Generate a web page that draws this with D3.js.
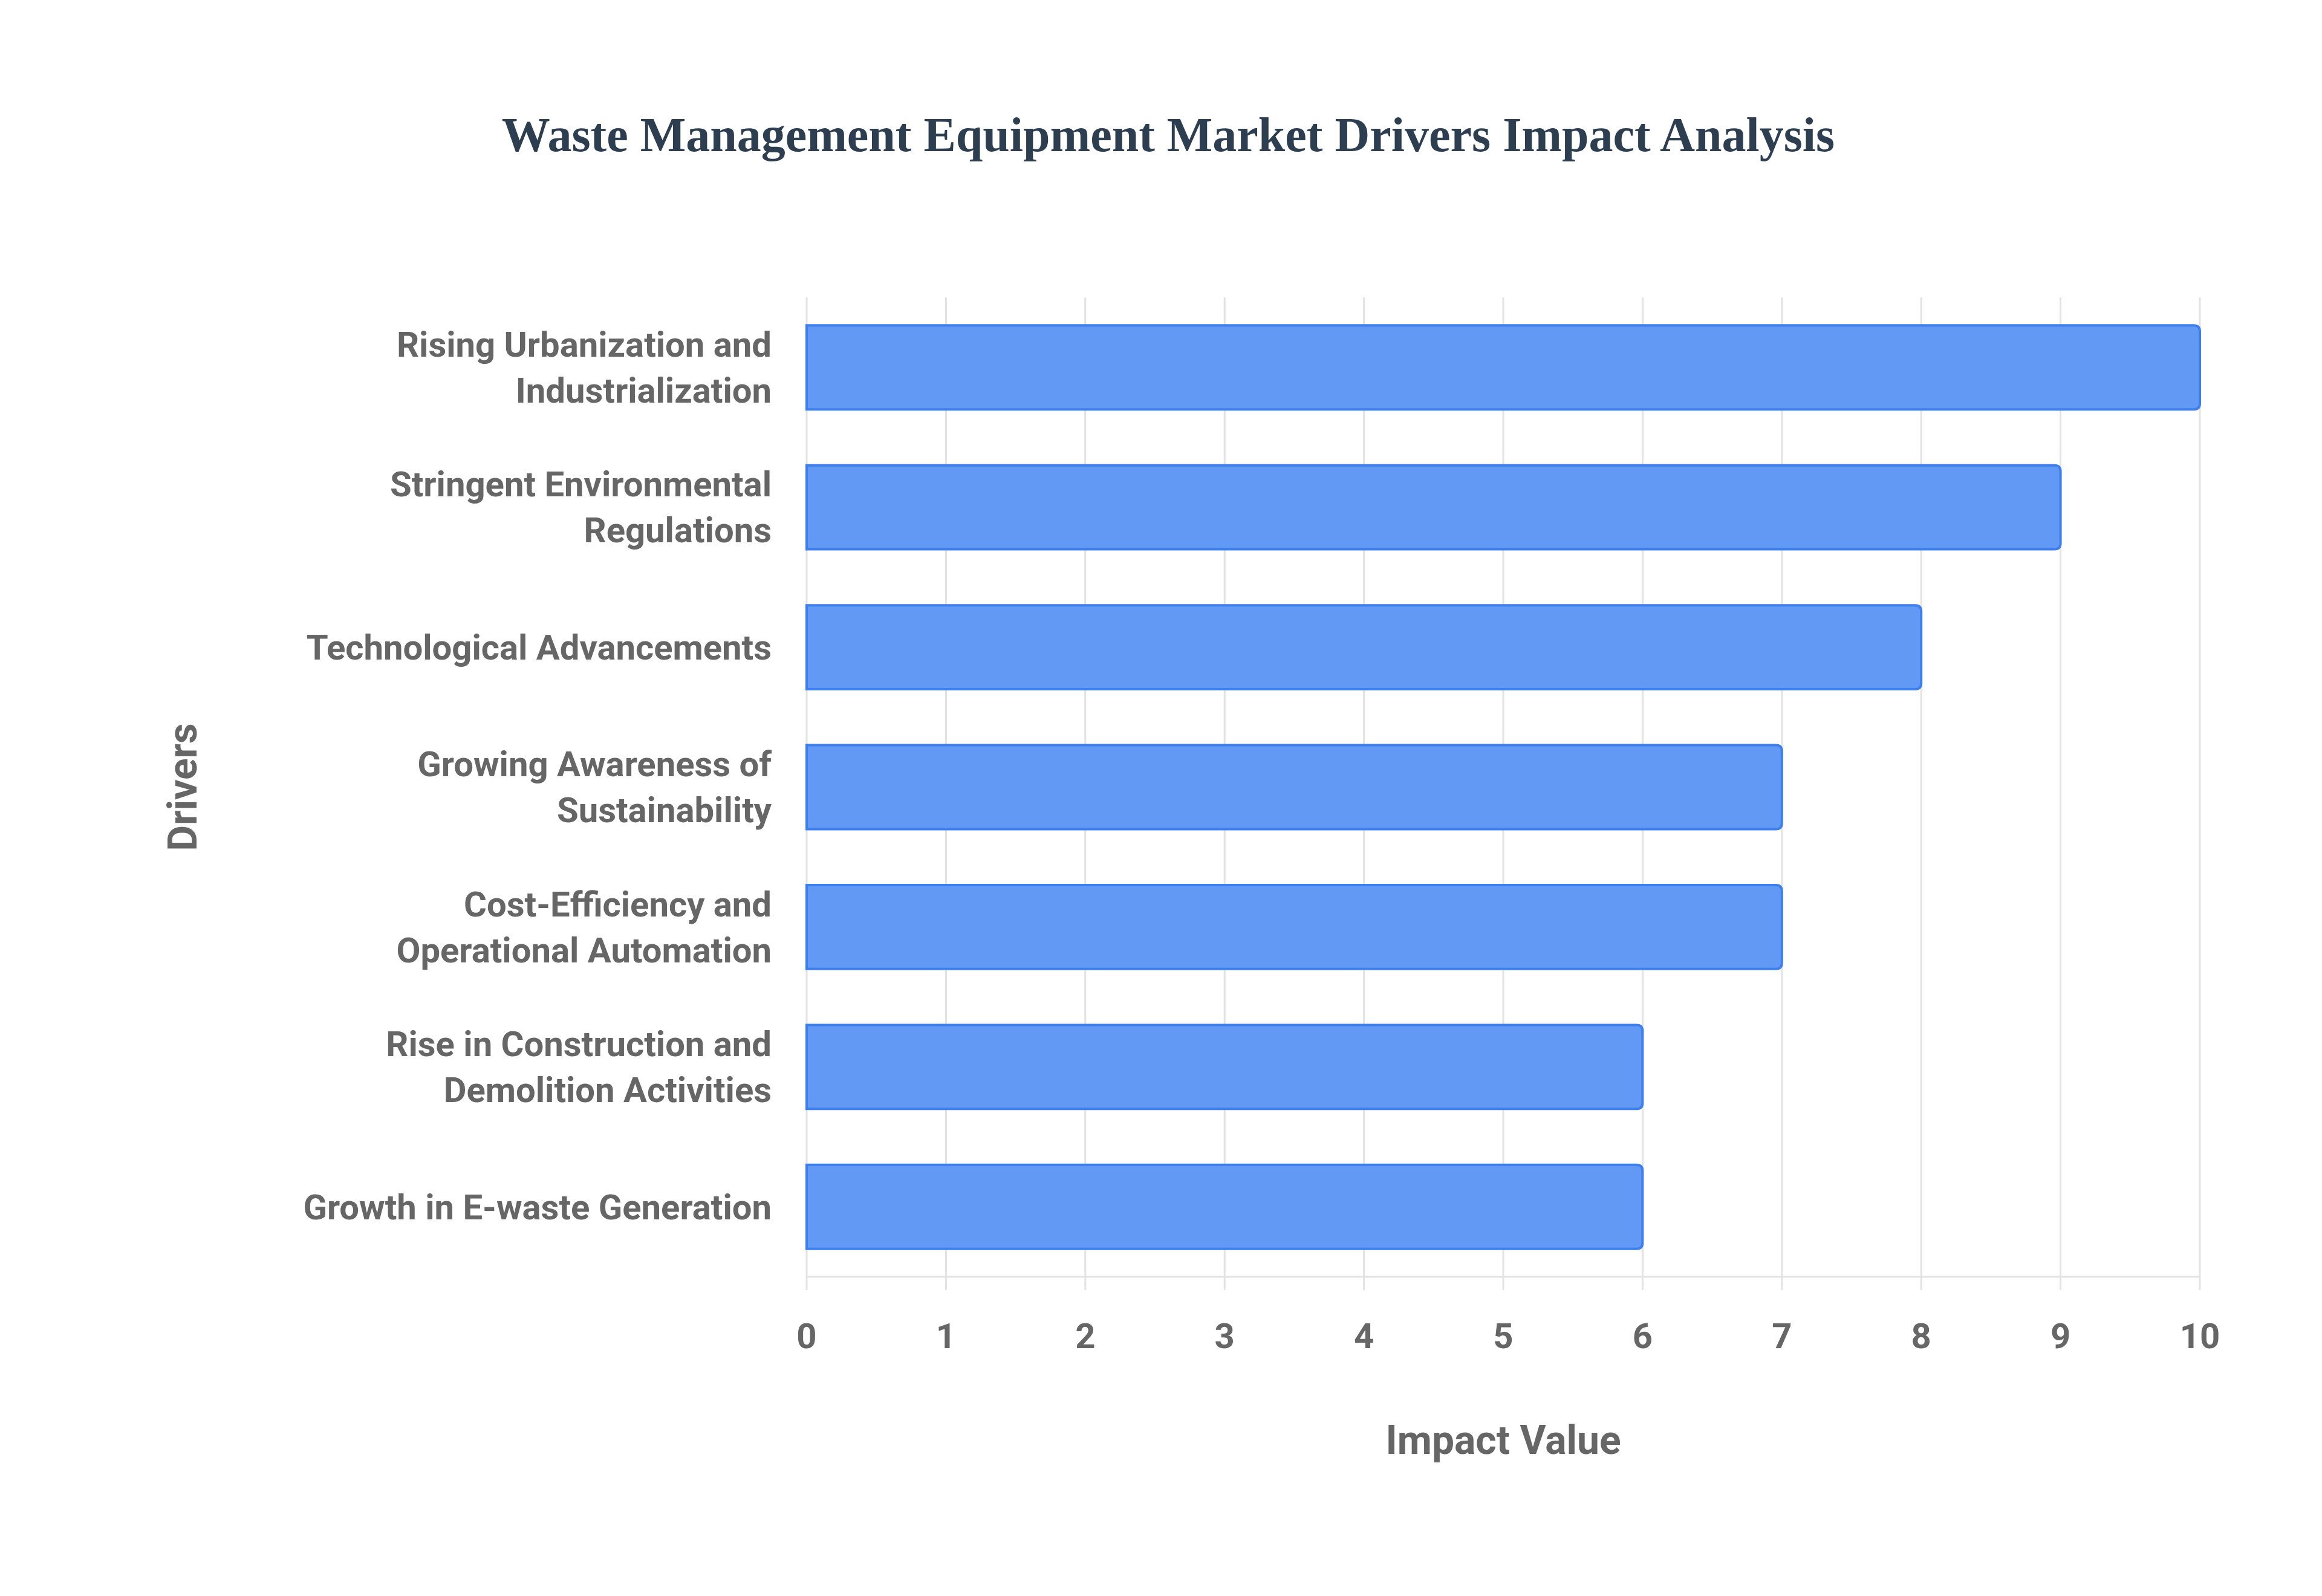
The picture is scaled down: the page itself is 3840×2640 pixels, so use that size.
<!DOCTYPE html>
<html><head><meta charset="utf-8">
<script src="https://cdn.jsdelivr.net/npm/d3@7"></script>
<style>body{margin:0;background:#fff}</style></head>
<body><svg id="c" width="3840" height="2640"></svg>
<script>
const categories = [
  ["Rising Urbanization and","Industrialization"],
  ["Stringent Environmental","Regulations"],
  ["Technological Advancements"],
  ["Growing Awareness of","Sustainability"],
  ["Cost-Efficiency and","Operational Automation"],
  ["Rise in Construction and","Demolition Activities"],
  ["Growth in E-waste Generation"]
];
const values = [10, 9, 8, 7, 7, 6, 6];
const ticks = [0,1,2,3,4,5,6,7,8,9,10];

const svg = d3.select("#c");
const L=1334, R=3638, T=492, B=2112;
const x = d3.scaleLinear().domain([0,10]).range([L,R]);
const y = d3.scaleBand().domain(d3.range(categories.length)).range([T,B]).paddingInner(0.4).paddingOuter(0.2);
const font = "Roboto, 'Liberation Sans', Arial, sans-serif";

// grid
svg.append("g").selectAll("line").data(ticks).join("line")
  .attr("x1",d=>x(d)).attr("x2",d=>x(d)).attr("y1",T).attr("y2",B+22)
  .attr("stroke","#e3e3e3").attr("stroke-width",3);
svg.append("line").attr("x1",L).attr("x2",R).attr("y1",B).attr("y2",B).attr("stroke","#e3e3e3").attr("stroke-width",3);

// bars (rounded right end)
const r=10;
svg.append("g").selectAll("path").data(values).join("path")
  .attr("d",(d,i)=>{const x0=x(0),x1=x(d),y0=y(i),h=y.bandwidth();
    return `M${x0},${y0}H${x1-r}Q${x1},${y0} ${x1},${y0+r}V${y0+h-r}Q${x1},${y0+h} ${x1-r},${y0+h}H${x0}Z`;})
  .attr("fill","#6199f4").attr("stroke","#3d7fec").attr("stroke-width",4);

// x tick labels
svg.append("g").selectAll("text").data(ticks).join("text")
  .attr("x",d=>x(d)).attr("y",2230).attr("text-anchor","middle")
  .attr("font-family",font).attr("font-weight","bold").attr("font-size",58).attr("fill","#666")
  .text(d=>d);

// y labels
const yl = svg.append("g").selectAll("text").data(categories).join("text")
  .attr("text-anchor","end").attr("font-family",font).attr("font-weight","bold")
  .attr("font-size",58).attr("fill","#666");
yl.each(function(lines,i){
  const c=y(i)+y.bandwidth()/2, lh=76;
  const start=c-(lines.length-1)*lh/2;
  d3.select(this).selectAll("tspan").data(lines).join("tspan")
    .attr("x",1276).attr("y",(d,j)=>start+j*lh).attr("dy","0.35em").text(d=>d);
});

// titles
svg.append("text").attr("x",1932).attr("y",250).attr("text-anchor","middle")
  .attr("font-family","'Liberation Serif','DejaVu Serif',serif").attr("font-weight","bold")
  .attr("font-size",80).attr("fill","#2c3e50").text("Waste Management Equipment Market Drivers Impact Analysis");
svg.append("text").attr("x",2486).attr("y",2405).attr("text-anchor","middle")
  .attr("font-family",font).attr("font-weight","bold").attr("font-size",66).attr("fill","#666").text("Impact Value");
svg.append("text").attr("transform","translate(325,1302) rotate(-90)").attr("text-anchor","middle")
  .attr("font-family",font).attr("font-weight","bold").attr("font-size",66).attr("fill","#666").text("Drivers");
</script></body></html>
